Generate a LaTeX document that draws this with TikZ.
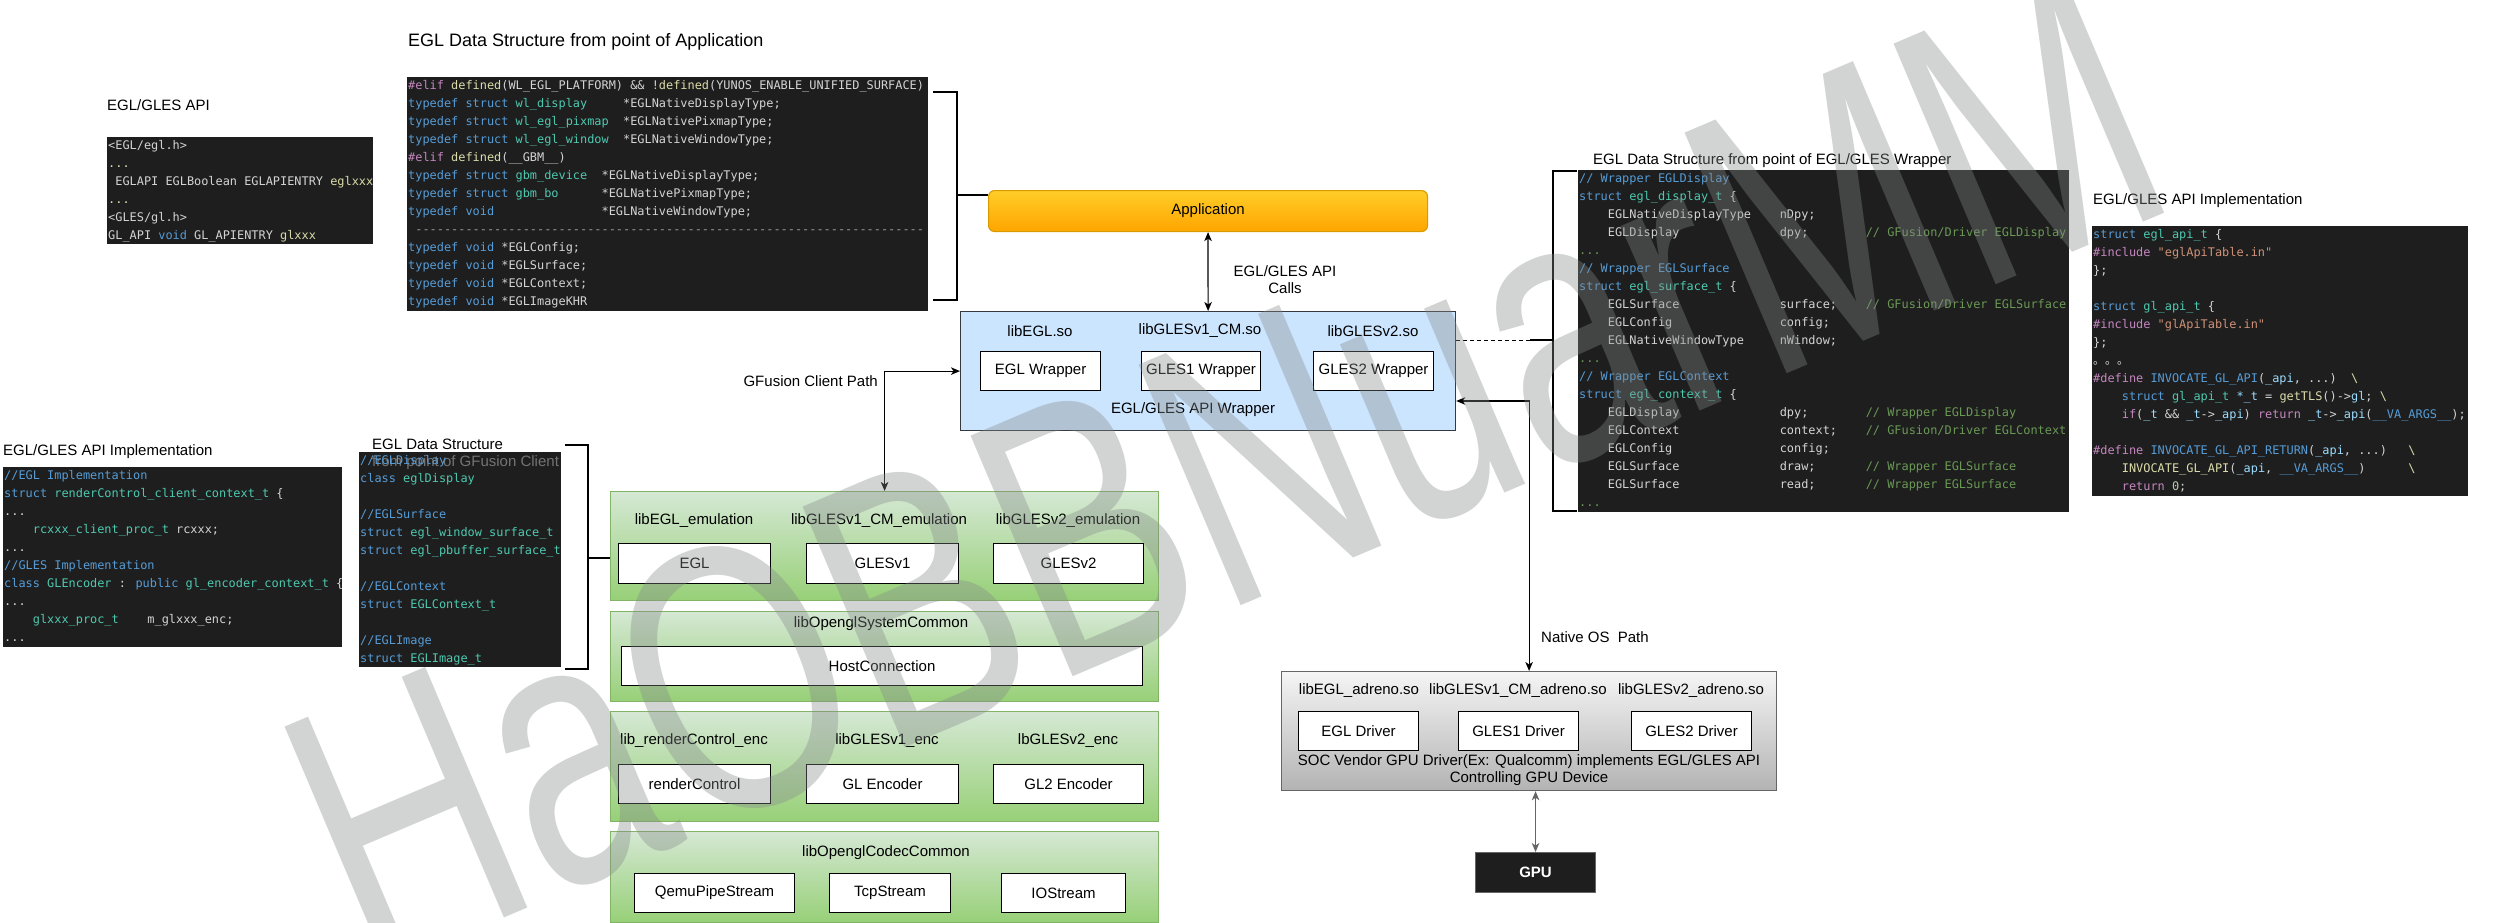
\documentclass[tikz,border=0pt]{standalone}
\usepackage{fontspec}
\setmainfont{Liberation Sans}
\newfontfamily\cfont{DejaVu Sans Mono}
\newfontfamily\cjkfont{Noto Sans CJK SC}
\usetikzlibrary{arrows.meta}
\definecolor{cbg}{HTML}{1E1E1E}
\definecolor{cfg}{HTML}{D4D4D4}
\definecolor{ckw}{HTML}{569CD6}
\definecolor{cty}{HTML}{4EC9B0}
\definecolor{cpp}{HTML}{C586C0}
\definecolor{cfn}{HTML}{DCDCAA}
\definecolor{ccm}{HTML}{6A9955}
\definecolor{cst}{HTML}{CE9178}
\definecolor{cvr}{HTML}{9CDCFE}
\definecolor{cnm}{HTML}{B5CEA8}
\definecolor{cdash}{HTML}{9A9A9A}
\definecolor{gtop}{HTML}{D5E8D4}
\definecolor{gbot}{HTML}{97D077}
\definecolor{gbrd}{HTML}{82B366}
\definecolor{btop}{HTML}{CCE5FF}
\definecolor{bbrd}{HTML}{36393D}
\definecolor{otop}{HTML}{FFCD28}
\definecolor{obot}{HTML}{FFA500}
\definecolor{obrd}{HTML}{D79B00}
\definecolor{stop}{HTML}{F5F5F5}
\definecolor{sbot}{HTML}{B3B3B3}
\definecolor{sbrd}{HTML}{666666}
\definecolor{cwm}{HTML}{858A8A}
\newcommand\mycode{\cfont\fontsize{11.9pt}{18pt}\selectfont}
\newcommand\mylbl{\fontsize{15pt}{17pt}\selectfont}
\newcommand\cKw[1]{\textcolor{ckw}{#1}}
\newcommand\cTy[1]{\textcolor{cty}{#1}}
\newcommand\cPp[1]{\textcolor{cpp}{#1}}
\newcommand\cFn[1]{\textcolor{cfn}{#1}}
\newcommand\cCm[1]{\textcolor{ccm}{#1}}
\newcommand\cSt[1]{\textcolor{cst}{#1}}
\newcommand\cVr[1]{\textcolor{cvr}{#1}}
\newcommand\cNm[1]{\textcolor{cnm}{#1}}
\newcommand\cSp[1]{\hspace*{#1\fontcharwd\font`x}}
\newcommand\cSep[1]{\textcolor{cdash}{\leaders\hbox to \fontcharwd\font`x{\hss-\hss}\hskip #1\fontcharwd\font`x\relax}}
\tikzset{mytip/.tip={Stealth[length=9pt,width=7.5pt,inset=2.5pt]}}
\begin{document}
\begin{tikzpicture}[x=1pt,y=-1pt,
  lbl/.style={font=\mylbl, inner sep=0, text=black},
  cbox/.style={fill=cbg, draw=none, inner sep=0, anchor=north west},
  ctxt/.style={anchor=north west, inner sep=0, font=\mycode, text=cfg},
  ibox/.style={draw=black, fill=white, line width=1.1pt, inner sep=0, anchor=north west, font=\mylbl},
  gbox/.style={draw=gbrd, top color=gtop, bottom color=gbot, line width=1.2pt, inner sep=0, anchor=north west},
  brk/.style={line width=2pt, draw=black},
  conn/.style={line width=1.2pt, draw=black, mytip-mytip},
]
\useasboundingbox (0,0) rectangle (2511,923);
\fill[white] (0,0) rectangle (2511,923);

% ---------- titles ----------
\node[lbl, anchor=west] (tApi) at (107,105) {EGL/GLES API};
\node[lbl, anchor=west, font=\fontsize{18pt}{20pt}\selectfont] (tApp) at (408,42) {EGL Data Structure from point of Application};
\node[lbl, anchor=west] (tImplL) at (3,452) {EGL/GLES API Implementation};
\node[lbl, anchor=west] (tWrap) at (1593,161) {EGL Data Structure from point of EGL/GLES Wrapper};
\node[lbl, anchor=west] (tImplR) at (2093,201) {EGL/GLES API Implementation};
\node[lbl, anchor=west, align=left] (tGf) at (372,454.5) {EGL Data Structure\\from point of GFusion Client};

% ---------- code box: EGL/GLES API ----------
\node[cbox, minimum width=266pt, minimum height=107pt] (codeAPI) at (107,137) {};
\begin{scope}
\clip (codeAPI.south west) rectangle (codeAPI.north east);
\node[ctxt] (codeAPItxt) at ([xshift=1pt]codeAPI.north west) {\begin{tabular}{@{}l@{}}
<EGL/egl.h>\\
\cFn{...}\\
\cSp{1}EGLAPI EGLBoolean EGLAPIENTRY \cFn{eglxxx}\\
\cFn{...}\\
<GLES/gl.h>\\
GL\_API \cKw{void} GL\_APIENTRY \cFn{glxxx}
\end{tabular}};
\end{scope}

% ---------- code box: application data ----------
\node[cbox, minimum width=521pt, minimum height=234pt] (codeA) at (407,77) {};
\begin{scope}
\clip (codeA.south west) rectangle (codeA.north east);
\node[ctxt] (codeAtxt) at ([xshift=1pt]codeA.north west) {\begin{tabular}{@{}l@{}}
\cPp{\#elif} \cFn{defined}(WL\_EGL\_PLATFORM) \&\& !\cFn{defined}(YUNOS\_ENABLE\_UNIFIED\_SURFACE)\\
\cKw{typedef struct} \cTy{wl\_display}\cSp{5}*EGLNativeDisplayType;\\
\cKw{typedef struct} \cTy{wl\_egl\_pixmap}\cSp{2}*EGLNativePixmapType;\\
\cKw{typedef struct} \cTy{wl\_egl\_window}\cSp{2}*EGLNativeWindowType;\\
\cPp{\#elif} \cFn{defined}(\_\_GBM\_\_)\\
\cKw{typedef struct} \cTy{gbm\_device}\cSp{2}*EGLNativeDisplayType;\\
\cKw{typedef struct} \cTy{gbm\_bo}\cSp{6}*EGLNativePixmapType;\\
\cKw{typedef void}\cSp{15}*EGLNativeWindowType;\\
\cSep{72}\\
\cKw{typedef void} *EGLConfig;\\
\cKw{typedef void} *EGLSurface;\\
\cKw{typedef void} *EGLContext;\\
\cKw{typedef void} *EGLImageKHR
\end{tabular}};
\end{scope}

% ---------- code box: left implementation ----------
\node[cbox, minimum width=339pt, minimum height=180pt] (codeD) at (3,467) {};
\begin{scope}
\clip (codeD.south west) rectangle (codeD.north east);
\node[ctxt] (codeDtxt) at ([xshift=1pt]codeD.north west) {\begin{tabular}{@{}l@{}}
\cKw{//EGL Implementation}\\
\cKw{struct} \cTy{renderControl\_client\_context\_t} \{\\
...\\
\cSp{4}\cTy{rcxxx\_client\_proc\_t} rcxxx;\\
...\\
\cKw{//GLES Implementation}\\
\cKw{class} \cTy{GLEncoder} : \cKw{public} \cTy{gl\_encoder\_context\_t} \{\\
...\\
\cSp{4}\cTy{glxxx\_proc\_t}\cSp{4}m\_glxxx\_enc;\\
...
\end{tabular}};
\end{scope}

% ---------- code box: GFusion client data ----------
\node[cbox, minimum width=202pt, minimum height=215pt] (codeE) at (359,452) {};
\begin{scope}
\clip (codeE.south west) rectangle (codeE.north east);
\node[lbl, anchor=west, align=left, text=black!55] (tGfShade) at (372,454.5) {EGL Data Structure\\from point of GFusion Client};
\node[ctxt] (codeEtxt) at ([xshift=1pt]codeE.north west) {\begin{tabular}{@{}l@{}}
\cKw{//EGLDisplay}\\
\cKw{class} \cTy{eglDisplay}\\
\mbox{}\\
\cKw{//EGLSurface}\\
\cKw{struct} \cTy{egl\_window\_surface\_t}\\
\cKw{struct} \cTy{egl\_pbuffer\_surface\_t}\\
\mbox{}\\
\cKw{//EGLContext}\\
\cKw{struct} \cTy{EGLContext\_t}\\
\mbox{}\\
\cKw{//EGLImage}\\
\cKw{struct} \cTy{EGLImage\_t}
\end{tabular}};
\end{scope}

% ---------- code box: wrapper data ----------
\node[cbox, minimum width=491pt, minimum height=342pt] (codeB) at (1578,170) {};
\begin{scope}
\clip (codeB.south west) rectangle (codeB.north east);
\node[ctxt] (codeBtxt) at ([xshift=1pt]codeB.north west) {\begin{tabular}{@{}l@{}}
\cKw{// Wrapper EGLDisplay}\\
\cKw{struct} \cTy{egl\_display\_t} \{\\
\cSp{4}EGLNativeDisplayType\cSp{4}nDpy;\\
\cSp{4}EGLDisplay\cSp{14}dpy;\cSp{8}\cCm{// GFusion/Driver EGLDisplay}\\
\cCm{...}\\
\cKw{// Wrapper EGLSurface}\\
\cKw{struct} \cTy{egl\_surface\_t} \{\\
\cSp{4}EGLSurface\cSp{14}surface;\cSp{4}\cCm{// GFusion/Driver EGLSurface}\\
\cSp{4}EGLConfig\cSp{15}config;\\
\cSp{4}EGLNativeWindowType\cSp{5}nWindow;\\
\cCm{...}\\
\cKw{// Wrapper EGLContext}\\
\cKw{struct} \cTy{egl\_context\_t} \{\\
\cSp{4}EGLDisplay\cSp{14}dpy;\cSp{8}\cCm{// Wrapper EGLDisplay}\\
\cSp{4}EGLContext\cSp{14}context;\cSp{4}\cCm{// GFusion/Driver EGLContext}\\
\cSp{4}EGLConfig\cSp{15}config;\\
\cSp{4}EGLSurface\cSp{14}draw;\cSp{7}\cCm{// Wrapper EGLSurface}\\
\cSp{4}EGLSurface\cSp{14}read;\cSp{7}\cCm{// Wrapper EGLSurface}\\
\cCm{...}
\end{tabular}};
\end{scope}

% ---------- code box: right implementation ----------
\node[cbox, minimum width=376pt, minimum height=270pt] (codeC) at (2092,226) {};
\begin{scope}
\clip (codeC.south west) rectangle (codeC.north east);
\node[ctxt] (codeCtxt) at ([xshift=1pt]codeC.north west) {\begin{tabular}{@{}l@{}}
\cKw{struct} \cTy{egl\_api\_t} \{\\
\cPp{\#include} \cSt{"eglApiTable.in"}\\
\};\\
\mbox{}\\
\cKw{struct} \cTy{gl\_api\_t} \{\\
\cPp{\#include} \cSt{"glApiTable.in"}\\
\};\\
{\cjkfont 。。。}\\
\cPp{\#define} \cKw{INVOCATE\_GL\_API}(\cVr{\_api}, ...)\cSp{2}\cFn{\textbackslash}\\
\cSp{4}\cKw{struct} \cTy{gl\_api\_t} \cVr{*\_t} = \cFn{getTLS}()->\cVr{gl}; \cFn{\textbackslash}\\
\cSp{4}\cPp{if}(\cVr{\_t} \&\& \cVr{\_t}->\cVr{\_api}) \cPp{return} \cVr{\_t}->\cVr{\_api}(\cKw{\_\_VA\_ARGS\_\_});\\
\mbox{}\\
\cPp{\#define} \cKw{INVOCATE\_GL\_API\_RETURN}(\cVr{\_api}, ...)\cSp{3}\cFn{\textbackslash}\\
\cSp{4}\cFn{INVOCATE\_GL\_API}(\cVr{\_api}, \cKw{\_\_VA\_ARGS\_\_})\cSp{6}\cFn{\textbackslash}\\
\cSp{4}\cPp{return} \cNm{0};
\end{tabular}};
\end{scope}

% ---------- application ----------
\node[draw=obrd, top color=otop, bottom color=obot, rounded corners=6pt, line width=1.1pt, inner sep=0, anchor=north west, minimum width=439pt, minimum height=41pt, font=\mylbl] (app) at (988,190) {Application};

% ---------- wrapper ----------
\node[draw=bbrd, fill=btop, line width=1.2pt, inner sep=0, anchor=north west, minimum width=495pt, minimum height=119pt] (wrap) at (960,311) {};
\node[lbl] (lw1) at (1040,331) {libEGL.so};
\node[lbl] (lw2) at (1200,331) {libGLESv1\_CM.so};
\node[lbl] (lw3) at (1373,331) {libGLESv2.so};
\node[ibox, minimum width=120pt, minimum height=39pt] (eglw) at (980,351) {EGL Wrapper};
\node[ibox, minimum width=119pt, minimum height=39pt] (gles1w) at (1141,351) {GLES1 Wrapper};
\node[ibox, minimum width=120pt, minimum height=39pt] (gles2w) at (1313,351) {GLES2 Wrapper};
\node[lbl] (lwrap) at (1193,410) {EGL/GLES API Wrapper};

% ---------- green stacks ----------
\node[gbox, minimum width=548pt, minimum height=109pt] (g1) at (610,491) {};
\node[lbl] (g1a) at (694,521) {libEGL\_emulation};
\node[lbl] (g1b) at (879,521) {libGLESv1\_CM\_emulation};
\node[lbl] (g1c) at (1068,521) {libGLESv2\_emulation};
\node[ibox, minimum width=152pt, minimum height=40pt] (emEGL) at (618,543) {EGL};
\node[ibox, minimum width=152pt, minimum height=40pt] (emG1) at (806,543) {GLESv1};
\node[ibox, minimum width=150pt, minimum height=40pt] (emG2) at (993,543) {GLESv2};

\node[gbox, minimum width=548pt, minimum height=90pt] (g2) at (610,611) {};
\node[lbl] (g2a) at (881,624) {libOpenglSystemCommon};
\node[ibox, minimum width=521pt, minimum height=39pt] (hostc) at (621,646) {HostConnection};

\node[gbox, minimum width=548pt, minimum height=110pt] (g3) at (610,711) {};
\node[lbl] (g3a) at (694,741) {lib\_renderControl\_enc};
\node[lbl] (g3b) at (887,741) {libGLESv1\_enc};
\node[lbl] (g3c) at (1068,741) {lbGLESv2\_enc};
\node[ibox, minimum width=152pt, minimum height=39pt] (rc) at (618,764) {renderControl};
\node[ibox, minimum width=152pt, minimum height=39pt] (glenc) at (806,764) {GL Encoder};
\node[ibox, minimum width=150pt, minimum height=39pt] (gl2enc) at (993,764) {GL2 Encoder};

\node[gbox, minimum width=548pt, minimum height=91pt] (g4) at (610,831) {};
\node[lbl] (g4a) at (886,853) {libOpenglCodecCommon};
\node[ibox, minimum width=160pt, minimum height=39pt] (qemu) at (634,873) {QemuPipeStream};
\node[ibox, minimum width=121pt, minimum height=39pt] (tcp) at (829,873) {TcpStream};
\node[ibox, minimum width=124pt, minimum height=39pt] (ios) at (1001,873) {IOStream};

% ---------- SOC driver ----------
\node[draw=sbrd, top color=stop, bottom color=sbot, line width=1.2pt, inner sep=0, anchor=north west, minimum width=495pt, minimum height=119pt] (soc) at (1281,671) {};
\node[lbl] (s1) at (1359,691) {libEGL\_adreno.so};
\node[lbl] (s2) at (1518,691) {libGLESv1\_CM\_adreno.so};
\node[lbl] (s3) at (1691,691) {libGLESv2\_adreno.so};
\node[ibox, minimum width=120pt, minimum height=39pt] (egld) at (1298,711) {EGL Driver};
\node[ibox, minimum width=120pt, minimum height=39pt] (g1d) at (1458,711) {GLES1 Driver};
\node[ibox, minimum width=120pt, minimum height=39pt] (g2d) at (1631,711) {GLES2 Driver};
\node[lbl, align=center] (soct) at (1529,770.5) {SOC Vendor GPU Driver(Ex: Qualcomm) implements EGL/GLES API\\Controlling GPU Device};

\node[draw=sbrd, fill=cbg, line width=1.1pt, inner sep=0, anchor=north west, minimum width=120pt, minimum height=40pt, font=\mylbl\bfseries, text=white] (gpu) at (1475,852) {GPU};

% ---------- brackets ----------
\coordinate (bAm) at (957,195);
\draw[brk] (933,92) -- (957,92) -- (957,300) -- (933,300);
\draw[brk] (bAm) -- (bAm -| app.west);

\coordinate (bEm) at (588,558);
\draw[brk] (565,445) -- (588,445) -- (588,669) -- (565,669);
\draw[brk] (bEm) -- (bEm -| g1.west);

\coordinate (bBm) at (1530,340);
\draw[brk] (1577,171) -- (1553,171) -- (1553,511) -- (1577,511);
\draw[brk] (1553,340) -- (bBm);
\draw[line width=1pt, dash pattern=on 4pt off 3pt] (wrap.east |- bBm) -- (bBm);

% ---------- connectors ----------
\draw[conn] (app.south) -- (wrap.north);
\node[lbl, align=center] (callsl) at (1285,279.5) {EGL/GLES API\\Calls};

\draw[conn] (wrap.west) -| (g1.north);
\node[lbl, anchor=east] (gfl) at (878,381) {GFusion Client Path};

\coordinate (natc) at (soc.north |- 0,401);
\draw[conn] (wrap.east |- natc) -- (natc) -- (soc.north);
\node[lbl, anchor=west] (natl) at (1541,637) {Native OS\ \ Path};

\draw[conn, draw=sbrd] (gpu.north) -- (gpu.north |- soc.south);

% ---------- watermark ----------
\node[text=cwm, opacity=0.37, rotate=23, inner sep=0, font=\fontsize{380pt}{380pt}\selectfont] (wmark) at (1225,470) {\scalebox{0.72}[1]{HaOBBNuarMM}};
\end{tikzpicture}
\end{document}
